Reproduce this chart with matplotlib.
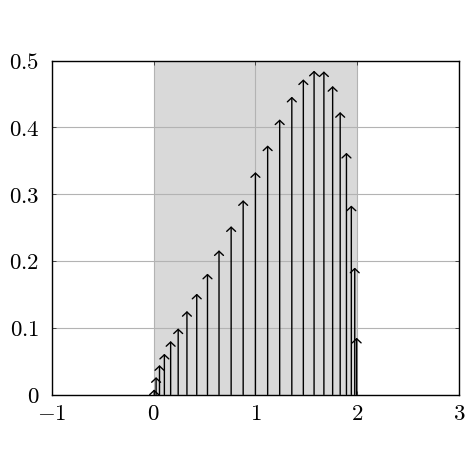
import matplotlib
matplotlib.use("Agg")
import matplotlib.pyplot as plt

plt.rcParams['mathtext.fontset'] = 'cm'
plt.rcParams['font.family'] = 'serif'
plt.rcParams['font.serif'] = ['DejaVu Serif']

# stem positions and heights
x_nodes = [0.0045, 0.0234, 0.0570, 0.1049, 0.1665, 0.2407, 0.3267, 0.4232,
           0.5288, 0.6421, 0.7614, 0.8797, 1.0000, 1.1203, 1.2386, 1.3579,
           1.4712, 1.5768, 1.6733, 1.7593, 1.8335, 1.8951, 1.9430, 1.9766,
           1.9955]
heights = [0.0075, 0.026, 0.044, 0.061, 0.080, 0.099, 0.125, 0.151,
           0.181, 0.216, 0.252, 0.291, 0.333, 0.373, 0.412, 0.446,
           0.472, 0.485, 0.484, 0.462, 0.423, 0.362, 0.283, 0.190,
           0.085]

shade_range = [0, 2]
xticks = [-1, 0, 1, 2, 3]
yticks = [0, 0.1, 0.2, 0.3, 0.4, 0.5]
xtick_labels = [r'$-1$', r'$0$', r'$1$', r'$2$', r'$3$']
ytick_labels = [r'$0$', r'$0.1$', r'$0.2$', r'$0.3$', r'$0.4$', r'$0.5$']

fig = plt.figure(figsize=(4.74, 4.74), dpi=100)
ax = fig.add_axes([0.1097, 0.1677, 0.968 - 0.1097, 0.872 - 0.1677])

ax.axvspan(shade_range[0], shade_range[1], color='#d9d9d9', zorder=0, lw=0)

for xv, hv in zip(x_nodes, heights):
    ax.annotate('', xy=(xv, hv), xytext=(xv, 0), xycoords='data',
                arrowprops=dict(arrowstyle='->,head_length=0.3,head_width=0.32',
                                color='black', lw=1.0, shrinkA=0, shrinkB=0),
                zorder=3)

ax.set_xlim(-1, 3)
ax.set_ylim(0, 0.5)
ax.set_xticks(xticks)
ax.set_xticklabels(xtick_labels)
ax.set_yticks(yticks)
ax.set_yticklabels(ytick_labels)
ax.grid(True, color='#b3b3b3', lw=0.8, zorder=1)
ax.set_axisbelow(True)
ax.tick_params(direction='in', length=3, width=0.7, labelsize=16.5,
               top=True, right=True, pad=6, color='#444444')
ax.tick_params(axis='y', pad=9)
for sp in ax.spines.values():
    sp.set_linewidth(1.0)
    sp.set_color('black')
    sp.set_zorder(4)

fig.savefig('out.png', dpi=100)
